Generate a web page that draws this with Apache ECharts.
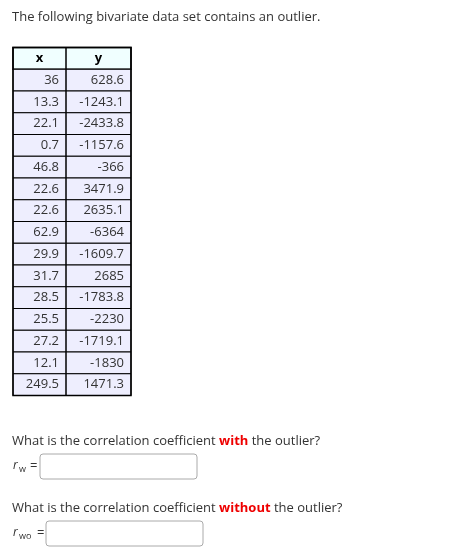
<!DOCTYPE html>
<html lang="en">
<head>
<meta charset="UTF-8">
<title>Outlier table</title>
<script src="https://cdn.jsdelivr.net/npm/echarts@6/dist/echarts.min.js"></script>
<style>
  html, body { margin: 0; padding: 0; background: #fff; }
  #main { width: 449px; height: 557px; }
</style>
</head>
<body>
<div id="main"></div>
<script>
    const columns = ['x', 'y'];
    const xValues = ['36', '13.3', '22.1', '0.7', '46.8', '22.6', '22.6', '62.9', '29.9', '31.7', '28.5', '25.5', '27.2', '12.1', '249.5'];
    const yValues = ['628.6', '-1243.1', '-2433.8', '-1157.6', '-366', '3471.9', '2635.1', '-6364', '-1609.7', '2685', '-1783.8', '-2230', '-1719.1', '-1830', '1471.3'];

    const font = '"Open Sans", sans-serif';
    const chart = echarts.init(document.getElementById('main'));
    const tblLeft = 13, tblMid = 66, tblRight = 131, tblTop = 47.5, rowH = 21.75;
    const els = [];

    function txt(x, y, s, opt) {
        els.push({
            type: 'text', x: x, y: y,
            style: Object.assign({text: s, fill: '#333', font: '13px ' + font, textVerticalAlign: 'middle'}, opt || {})
        });
    }

    txt(12, 17, 'The following bivariate data set contains an outlier.');

    // header
    els.push({type: 'rect', shape: {x: tblLeft, y: tblTop, width: tblRight - tblLeft, height: rowH},
        style: {fill: '#f0ffff', stroke: '#000', lineWidth: 1.5}});
    txt((tblLeft + tblMid) / 2, tblTop + rowH / 2, columns[0], {textAlign: 'center', font: 'bold 13px ' + font, fill: '#000'});
    txt((tblMid + tblRight) / 2, tblTop + rowH / 2, columns[1], {textAlign: 'center', font: 'bold 13px ' + font, fill: '#000'});

    xValues.forEach(function (xv, i) {
        const y0 = tblTop + rowH * (i + 1);
        els.push({type: 'rect', shape: {x: tblLeft, y: y0, width: tblRight - tblLeft, height: rowH},
            style: {fill: '#eeeefe', stroke: '#000', lineWidth: 1}});
        txt(tblMid - 7, y0 + rowH / 2, xv, {textAlign: 'right'});
        txt(tblRight - 7, y0 + rowH / 2, yValues[i], {textAlign: 'right'});
    });
    els.push({type: 'rect', shape: {x: tblLeft, y: tblTop, width: tblRight - tblLeft, height: rowH * (xValues.length + 1)},
        style: {fill: 'none', stroke: '#000', lineWidth: 1.5}});
    els.push({type: 'line', shape: {x1: tblMid, y1: tblTop, x2: tblMid, y2: tblTop + rowH * (xValues.length + 1)},
        style: {stroke: '#000', lineWidth: 1.5}});

    function question(y, word) {
        els.push({type: 'text', x: 12, y: y, style: {
            text: '{n|What is the correlation coefficient }{r|' + word + '}{n| the outlier?}',
            textVerticalAlign: 'middle',
            rich: {n: {font: '13px ' + font, fill: '#333'}, r: {font: 'bold 13px ' + font, fill: '#e00'}}
        }});
    }
    question(441, 'with');
    question(508, 'without');

    txt(13, 466, 'r', {font: 'italic 12px ' + font});
    txt(19, 469, 'w', {font: '9px ' + font});
    txt(30, 466, '=');
    els.push({type: 'rect', shape: {x: 40, y: 454, width: 157, height: 25, r: 3},
        style: {fill: '#fff', stroke: '#aaa', lineWidth: 1}});

    txt(13, 533, 'r', {font: 'italic 12px ' + font});
    txt(19, 536, 'wo', {font: '9px ' + font});
    txt(37, 533, '=');
    els.push({type: 'rect', shape: {x: 46, y: 521, width: 157, height: 25, r: 3},
        style: {fill: '#fff', stroke: '#aaa', lineWidth: 1}});

    chart.setOption({animation: false, graphic: els});
</script>
</body>
</html>
